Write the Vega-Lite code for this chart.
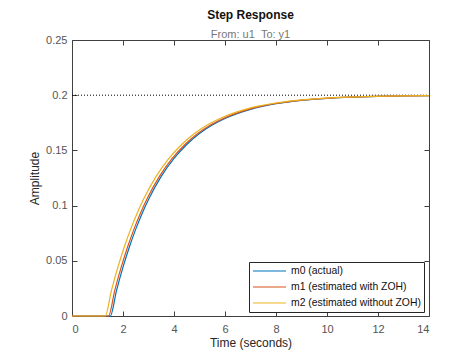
{
  "$schema": "https://vega.github.io/schema/vega-lite/v6.json",
  "width": 357,
  "height": 276,
  "autosize": {"type": "none"},
  "padding": {"left": 72, "top": 40, "right": 45, "bottom": 39},
  "background": "white",
  "config": {
    "font": "Liberation Sans",
    "view": {"stroke": "#404040", "strokeWidth": 1},
    "axis": {
      "grid": false,
      "domain": false,
      "tickSize": -5,
      "tickColor": "#404040",
      "labelFont": "Liberation Sans",
      "labelFontSize": 11,
      "labelColor": "#555555",
      "titleFont": "Liberation Sans",
      "titleFontSize": 12,
      "titleFontWeight": "normal",
      "titleColor": "#262626"
    }
  },
  "title": {
    "text": "Step Response",
    "subtitle": "From: u1\u00a0\u00a0To: y1",
    "anchor": "middle",
    "fontSize": 12,
    "fontWeight": "bold",
    "color": "#111111",
    "subtitleFontSize": 11,
    "subtitleColor": "#777777",
    "subtitlePadding": 7,
    "offset": -7
  },
  "layer": [
    {
      "data": {"values": [{"level": 0.2}]},
      "mark": {"type": "rule", "color": "#000000", "strokeDash": [1, 2], "strokeWidth": 1},
      "encoding": {
        "x": {"datum": 0, "type": "quantitative", "scale": {"domain": [0, 14]},
          "axis": {"orient": "top", "labels": false, "title": null, "values": [0, 2, 4, 6, 8, 10, 12, 14]}},
        "x2": {"datum": 14},
        "y": {"field": "level", "type": "quantitative", "scale": {"domain": [0, 0.25]},
          "axis": {"orient": "right", "labels": false, "title": null, "values": [0, 0.05, 0.1, 0.15, 0.2, 0.25]}}
      }
    },
    {
      "data": {"values": [
        {"model": "m0 (actual)", "t": 0, "y": 0},
        {"model": "m0 (actual)", "t": 1.5, "y": 0},
        {"model": "m0 (actual)", "t": 1.75, "y": 0.0235},
        {"model": "m0 (actual)", "t": 2, "y": 0.04424},
        {"model": "m0 (actual)", "t": 2.25, "y": 0.06254},
        {"model": "m0 (actual)", "t": 2.5, "y": 0.0787},
        {"model": "m0 (actual)", "t": 2.75, "y": 0.09294},
        {"model": "m0 (actual)", "t": 3, "y": 0.10552},
        {"model": "m0 (actual)", "t": 3.5, "y": 0.12642},
        {"model": "m0 (actual)", "t": 4, "y": 0.1427},
        {"model": "m0 (actual)", "t": 4.5, "y": 0.15538},
        {"model": "m0 (actual)", "t": 5, "y": 0.16524},
        {"model": "m0 (actual)", "t": 5.5, "y": 0.17294},
        {"model": "m0 (actual)", "t": 6, "y": 0.17892},
        {"model": "m0 (actual)", "t": 6.5, "y": 0.18358},
        {"model": "m0 (actual)", "t": 7, "y": 0.18722},
        {"model": "m0 (actual)", "t": 7.5, "y": 0.19004},
        {"model": "m0 (actual)", "t": 8, "y": 0.19224},
        {"model": "m0 (actual)", "t": 9, "y": 0.1953},
        {"model": "m0 (actual)", "t": 10, "y": 0.19715},
        {"model": "m0 (actual)", "t": 11, "y": 0.19827},
        {"model": "m0 (actual)", "t": 12, "y": 0.19895},
        {"model": "m0 (actual)", "t": 13, "y": 0.19936},
        {"model": "m0 (actual)", "t": 14, "y": 0.19961},
        {"model": "m1 (estimated with ZOH)", "t": 0, "y": 0},
        {"model": "m1 (estimated with ZOH)", "t": 1.43, "y": 0},
        {"model": "m1 (estimated with ZOH)", "t": 1.68, "y": 0.0235},
        {"model": "m1 (estimated with ZOH)", "t": 1.93, "y": 0.04424},
        {"model": "m1 (estimated with ZOH)", "t": 2.18, "y": 0.06254},
        {"model": "m1 (estimated with ZOH)", "t": 2.43, "y": 0.0787},
        {"model": "m1 (estimated with ZOH)", "t": 2.68, "y": 0.09294},
        {"model": "m1 (estimated with ZOH)", "t": 2.93, "y": 0.10552},
        {"model": "m1 (estimated with ZOH)", "t": 3.43, "y": 0.12642},
        {"model": "m1 (estimated with ZOH)", "t": 3.93, "y": 0.1427},
        {"model": "m1 (estimated with ZOH)", "t": 4.43, "y": 0.15538},
        {"model": "m1 (estimated with ZOH)", "t": 4.93, "y": 0.16524},
        {"model": "m1 (estimated with ZOH)", "t": 5.43, "y": 0.17294},
        {"model": "m1 (estimated with ZOH)", "t": 5.93, "y": 0.17892},
        {"model": "m1 (estimated with ZOH)", "t": 6.43, "y": 0.18358},
        {"model": "m1 (estimated with ZOH)", "t": 6.93, "y": 0.18722},
        {"model": "m1 (estimated with ZOH)", "t": 7.43, "y": 0.19004},
        {"model": "m1 (estimated with ZOH)", "t": 7.93, "y": 0.19224},
        {"model": "m1 (estimated with ZOH)", "t": 8.93, "y": 0.1953},
        {"model": "m1 (estimated with ZOH)", "t": 9.93, "y": 0.19715},
        {"model": "m1 (estimated with ZOH)", "t": 10.93, "y": 0.19827},
        {"model": "m1 (estimated with ZOH)", "t": 11.93, "y": 0.19895},
        {"model": "m1 (estimated with ZOH)", "t": 12.93, "y": 0.19936},
        {"model": "m1 (estimated with ZOH)", "t": 14, "y": 0.19963},
        {"model": "m2 (estimated without ZOH)", "t": 0, "y": 0},
        {"model": "m2 (estimated without ZOH)", "t": 1.3, "y": 0},
        {"model": "m2 (estimated without ZOH)", "t": 1.55, "y": 0.0235},
        {"model": "m2 (estimated without ZOH)", "t": 1.8, "y": 0.04424},
        {"model": "m2 (estimated without ZOH)", "t": 2.05, "y": 0.06254},
        {"model": "m2 (estimated without ZOH)", "t": 2.3, "y": 0.0787},
        {"model": "m2 (estimated without ZOH)", "t": 2.55, "y": 0.09294},
        {"model": "m2 (estimated without ZOH)", "t": 2.8, "y": 0.10552},
        {"model": "m2 (estimated without ZOH)", "t": 3.3, "y": 0.12642},
        {"model": "m2 (estimated without ZOH)", "t": 3.8, "y": 0.1427},
        {"model": "m2 (estimated without ZOH)", "t": 4.3, "y": 0.15538},
        {"model": "m2 (estimated without ZOH)", "t": 4.8, "y": 0.16524},
        {"model": "m2 (estimated without ZOH)", "t": 5.3, "y": 0.17294},
        {"model": "m2 (estimated without ZOH)", "t": 5.8, "y": 0.17892},
        {"model": "m2 (estimated without ZOH)", "t": 6.3, "y": 0.18358},
        {"model": "m2 (estimated without ZOH)", "t": 6.8, "y": 0.18722},
        {"model": "m2 (estimated without ZOH)", "t": 7.3, "y": 0.19004},
        {"model": "m2 (estimated without ZOH)", "t": 7.8, "y": 0.19224},
        {"model": "m2 (estimated without ZOH)", "t": 8.8, "y": 0.1953},
        {"model": "m2 (estimated without ZOH)", "t": 9.8, "y": 0.19715},
        {"model": "m2 (estimated without ZOH)", "t": 10.8, "y": 0.19827},
        {"model": "m2 (estimated without ZOH)", "t": 11.8, "y": 0.19895},
        {"model": "m2 (estimated without ZOH)", "t": 12.8, "y": 0.19936},
        {"model": "m2 (estimated without ZOH)", "t": 14, "y": 0.19965}
      ]},
      "mark": {"type": "line", "strokeWidth": 1.2, "interpolate": "monotone"},
      "encoding": {
        "x": {"field": "t", "type": "quantitative", "scale": {"domain": [0, 14]},
          "axis": {"orient": "bottom", "title": "Time (seconds)", "values": [0, 2, 4, 6, 8, 10, 12, 14], "labelPadding": 12, "titlePadding": 3}},
        "y": {"field": "y", "type": "quantitative", "scale": {"domain": [0, 0.25]},
          "axis": {"orient": "left", "title": "Amplitude", "values": [0, 0.05, 0.1, 0.15, 0.2, 0.25], "format": "~g", "labelPadding": 10, "titlePadding": 4}},
        "color": {"field": "model", "type": "nominal",
          "scale": {"domain": ["m0 (actual)", "m1 (estimated with ZOH)", "m2 (estimated without ZOH)"], "range": ["#0072BD", "#D95319", "#EDB120"]},
          "legend": {"title": null, "orient": "none", "legendX": 177, "legendY": 222, "strokeColor": "#262626", "fillColor": "white", "padding": 3, "symbolType": "M-1,0H5.6", "symbolSize": 100, "symbolStrokeWidth": 1.2, "labelFontSize": 10.4, "labelColor": "#111111", "labelFont": "Liberation Sans", "rowPadding": 4, "labelOffset": 27, "cornerRadius": 0}}
      }
    }
  ],
  "resolve": {"axis": {"x": "independent", "y": "independent"}}
}
